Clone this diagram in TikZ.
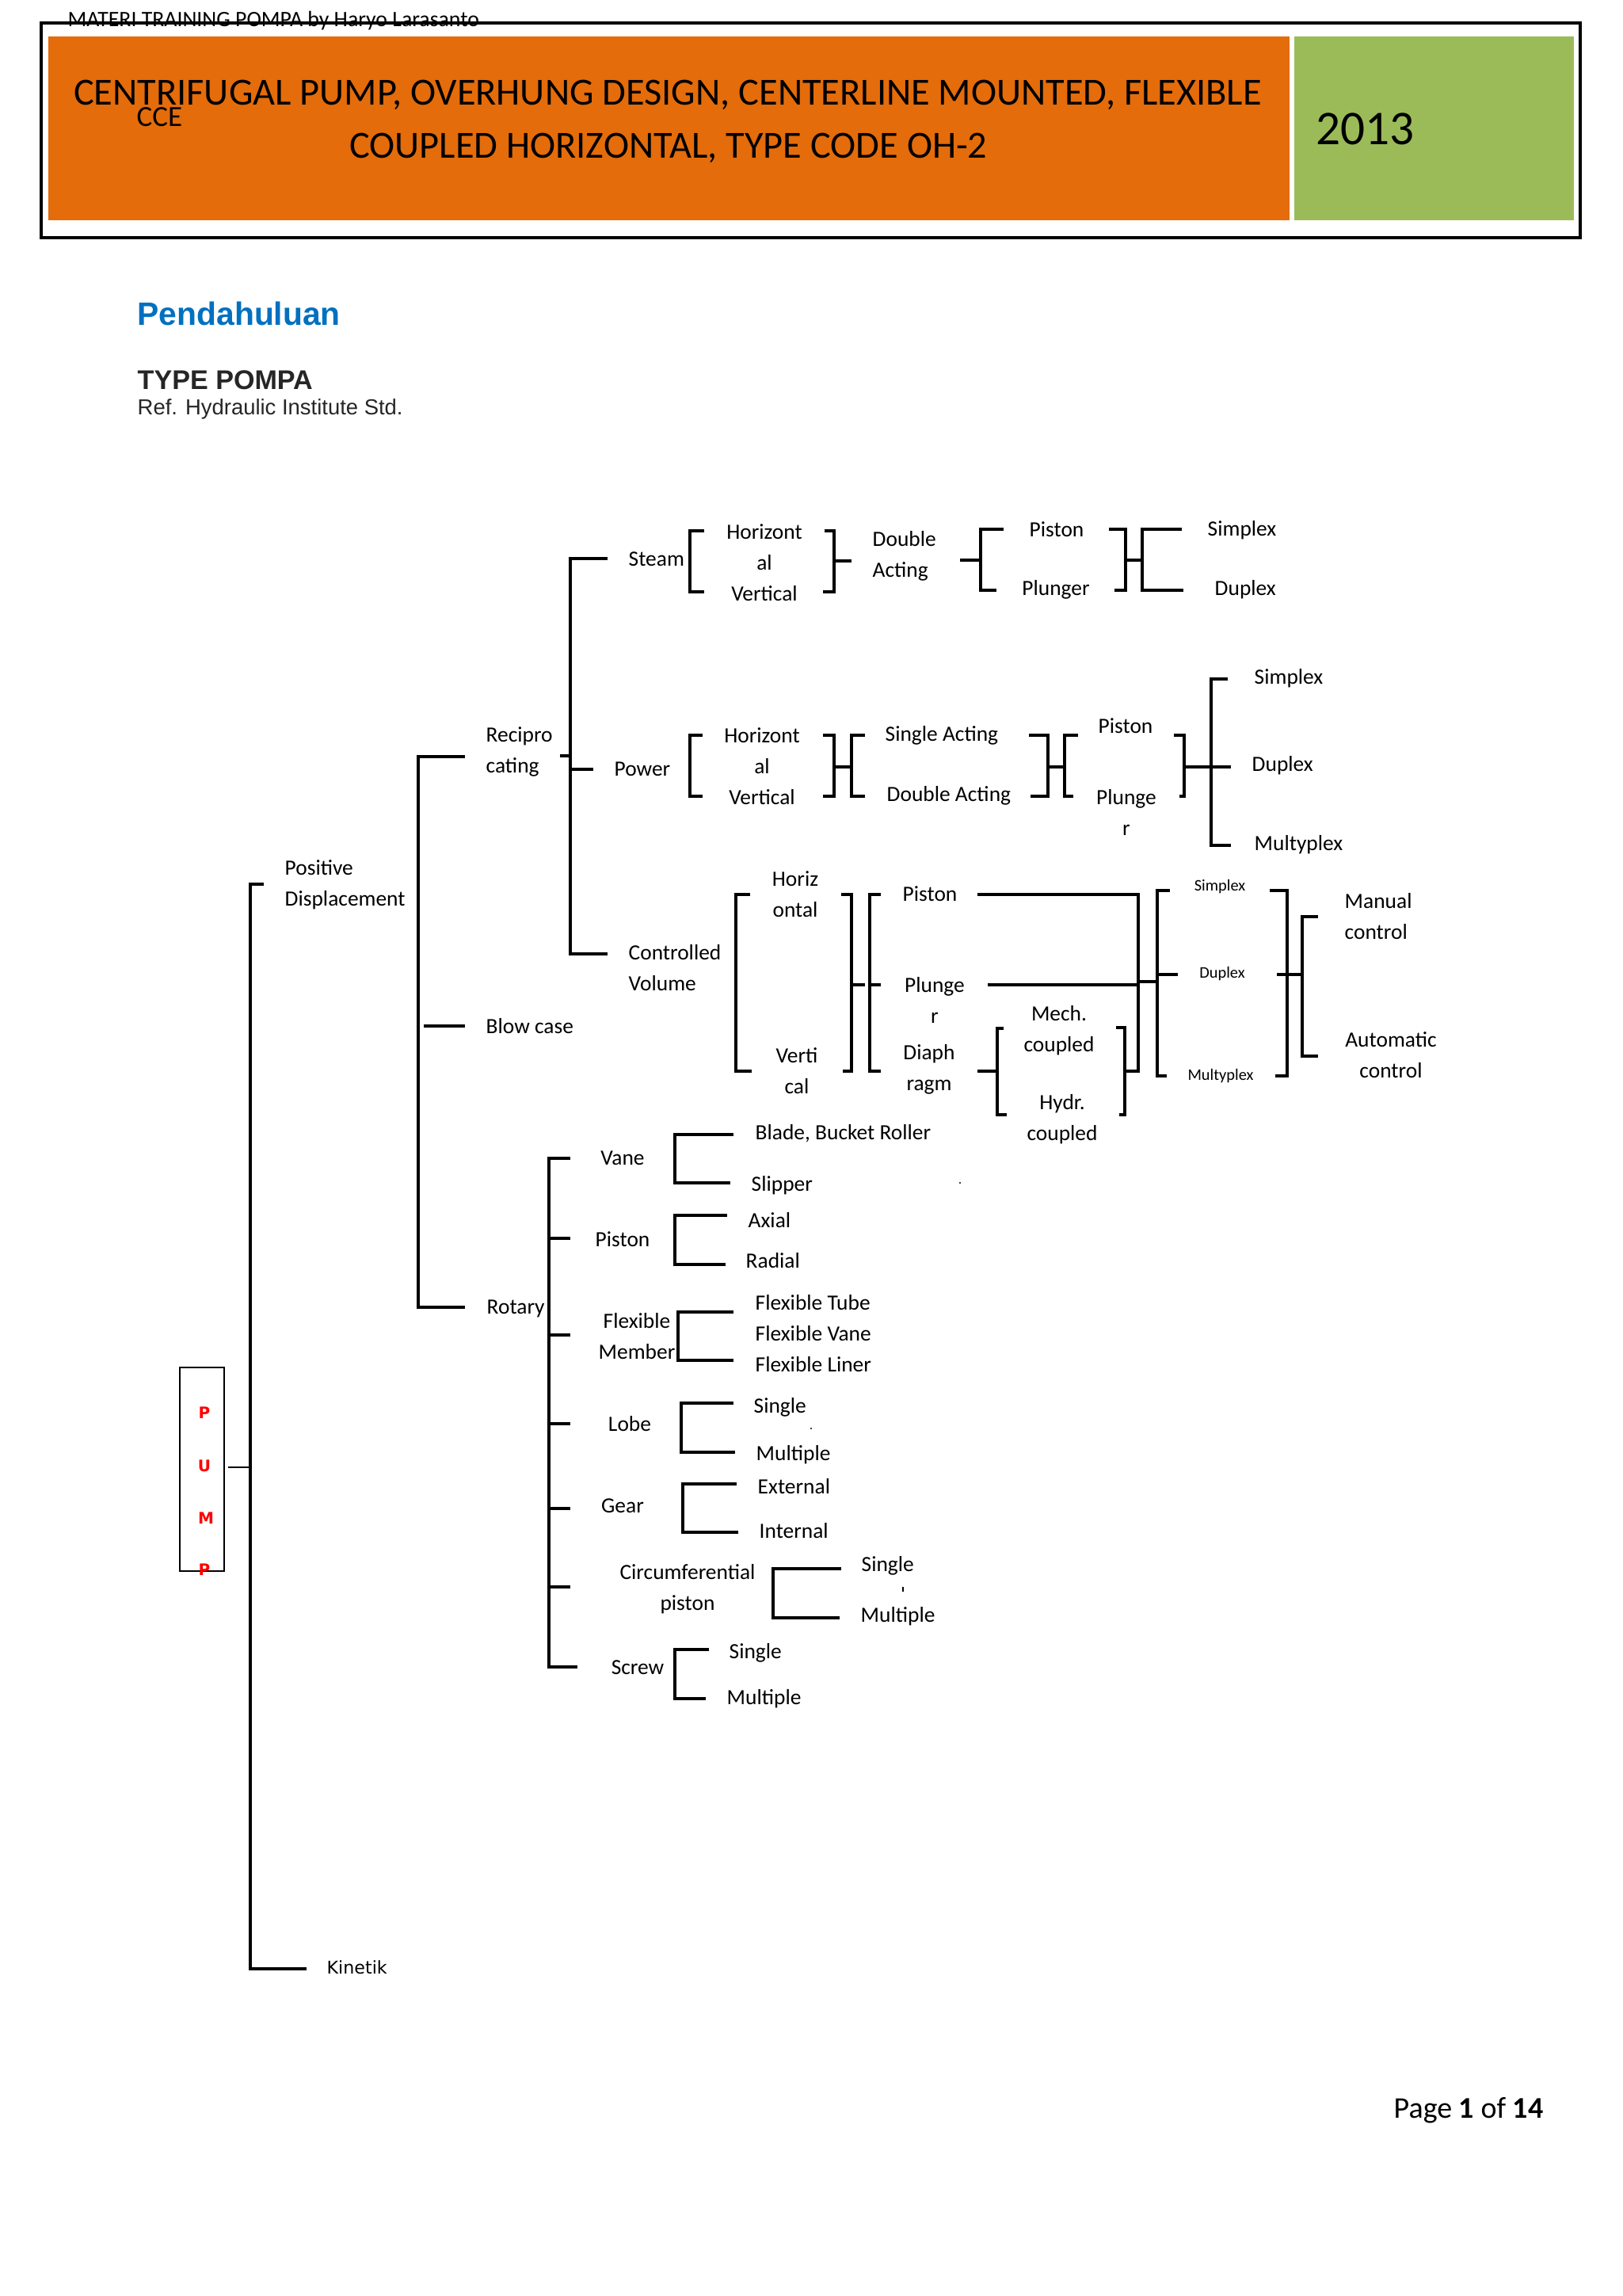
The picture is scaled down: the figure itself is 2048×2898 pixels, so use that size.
\documentclass[tikz,border=0pt]{standalone}
\usepackage{fontspec}
\setmainfont{Carlito}
\newfontfamily\arialf{Liberation Sans}
\newfontfamily\dejaf{DejaVu Sans}
\definecolor{orH}{HTML}{E46C0A}
\definecolor{grH}{HTML}{9BBB59}
\definecolor{blH}{HTML}{0070C0}
\definecolor{dkH}{HTML}{262626}
\begin{document}
\begin{tikzpicture}[x=0.01cm,y=-0.01cm,
  lbl/.style={inner sep=0pt, align=center, font=\fontsize{7.8pt}{11.1pt}\selectfont},
  lbw/.style={lbl, align=left, anchor=west},
  sml/.style={inner sep=0pt, font=\fontsize{5.8pt}{7pt}\selectfont},
  ln/.style={line width=0.9pt},
  thinln/.style={line width=0.5pt},
  pl/.style={inner sep=0pt, text=red, font=\dejaf\bfseries\fontsize{5.7pt}{6pt}\selectfont}]
\useasboundingbox[fill=white] (0,0) rectangle (2048,2898);

% ---------- header ----------
\draw[line width=1.2pt] (52,29) rectangle (1995,300);
\fill[orH] (61,46) rectangle (1628,278);
\fill[grH] (1634,46) rectangle (1987,278);
\node[anchor=base west, inner sep=0pt, font=\fontsize{7.9pt}{9pt}\selectfont] (hdr) at (85,34) {MATERI TRAINING POMPA by Haryo Larasanto};
\node[anchor=base, inner sep=0pt, font=\fontsize{13.75pt}{16pt}\selectfont] (t1) at (843,133) {CENTRIFUGAL PUMP, OVERHUNG DESIGN, CENTERLINE MOUNTED, FLEXIBLE};
\node[anchor=base, inner sep=0pt, font=\fontsize{13.75pt}{16pt}\selectfont] (t2) at (844,200) {COUPLED HORIZONTAL, TYPE CODE OH-2};
\node[anchor=base west, inner sep=0pt, font=\fontsize{10.5pt}{12pt}\selectfont] (cce) at (172,160) {CCE};
\node[anchor=base west, inner sep=0pt, font=\fontsize{17.4pt}{20pt}\selectfont] (yr) at (1661,183) {2013};

\node[anchor=base west, inner sep=0pt, text=blH, font=\arialf\bfseries\fontsize{11.6pt}{14pt}\selectfont] (pend) at (173,411) {Pendahuluan};
\node[anchor=base west, inner sep=0pt, text=dkH, font=\arialf\bfseries\fontsize{9.7pt}{11pt}\selectfont] (tp) at (173,492) {TYPE POMPA};
\node[anchor=base west, inner sep=0pt, text=dkH, font=\arialf\fontsize{7.8pt}{9pt}\selectfont] (ref) at (173,524) {Ref. Hydraulic Institute Std.};

\node[anchor=base west, inner sep=0pt, font=\fontsize{10.8pt}{12pt}\selectfont] (pg) at (1759,2673) {Page \textbf{1} of \textbf{14}};

% ---------- PUMP ----------
\node[draw, line width=0.5pt, minimum width=0.56cm, minimum height=2.57cm, inner sep=0pt] (pump) at (255,1854.5) {};
\node[pl] (p1) at (258,1783) {P};
\node[pl] (p2) at (258,1850) {U};
\node[pl] (p3) at (260,1916) {M};
\node[pl] (p4) at (258,1981) {P};
\draw[thinln] (288,1852) -- (316,1852);

% level 1
\draw[ln] (333,1116) -- (316,1116) -- (316,2485) -- (387,2485);
\node[lbw] (pd) at (359,1116.5) {Positive\\Displacement};
\node[anchor=west, inner sep=0pt, font=\dejaf\fontsize{6.3pt}{7pt}\selectfont] (kin) at (412,2483) {Kinetik};

% level 2
\draw[ln] (587,955) -- (528,955) -- (528,1650) -- (587,1650);
\draw[ln] (535,1295) -- (587,1295);
\node[lbw] (rec) at (613,948.5) {Recipro\\cating};
\node[lbw] (blow) at (613,1295) {Blow case};
\node[lbw] (rot) at (614,1652) {Rotary};

% reciprocating
\draw[ln] (707,954) -- (720,954);
\draw[ln] (767,705) -- (720,705) -- (720,1204) -- (767,1204);
\draw[ln] (720,971) -- (749,971);
\node[lbw] (steam) at (793,706) {Steam};
\node[lbw] (power) at (775,971) {Power};
\node[lbw] (cv) at (793,1221.5) {Controlled\\Volume};

% steam row
\draw[ln] (889,670) -- (871,670) -- (871,747) -- (889,747);
\node[lbl] (shv) at (965,710) {Horizont\\al\\Vertical};
\draw[ln] (1041,670) -- (1053,670) -- (1053,747) -- (1039,747);
\draw[ln] (1053,708) -- (1075,708);
\node[lbw] (sda) at (1101,701.5) {Double\\Acting};
\draw[ln] (1212,707) -- (1238,707);
\draw[ln] (1267,668) -- (1238,668) -- (1238,745) -- (1258,745);
\node[lbl] (spis) at (1334,668) {Piston};
\node[lbl] (splu) at (1333,744) {Plunger};
\draw[ln] (1400,668) -- (1421,668) -- (1421,745) -- (1407,745);
\draw[ln] (1421,707) -- (1442,707);
\draw[ln] (1492,668) -- (1442,668) -- (1442,745) -- (1494,745);
\node[lbw] (ssim) at (1524,669) {Simplex};
\node[lbw] (sdup) at (1533,744) {Duplex};

% power row
\draw[ln] (887,928) -- (871,928) -- (871,1005) -- (887,1005);
\node[lbl] (phv) at (962,967) {Horizont\\al\\Vertical};
\draw[ln] (1039,928) -- (1053,928) -- (1053,1005) -- (1039,1005);
\draw[ln] (1053,968) -- (1075,968);
\draw[ln] (1092,928) -- (1075,928) -- (1075,1005) -- (1092,1005);
\node[lbw] (psa) at (1117,928) {Single Acting};
\node[lbw] (pda) at (1119,1004) {Double Acting};
\draw[ln] (1299,928) -- (1323,928) -- (1323,1005) -- (1301,1005);
\draw[ln] (1323,968) -- (1344,968);
\draw[ln] (1361,928) -- (1344,928) -- (1344,1005) -- (1355,1005);
\node[lbl] (ppis) at (1421,916) {Piston};
\node[lbl] (pplu) at (1422,1025) {Plunge\\r};
\draw[ln] (1482,928) -- (1495,928) -- (1495,1005) -- (1489,1005);
\draw[ln] (1495,968) -- (1554,968);
\draw[ln] (1550,857) -- (1529,857) -- (1529,1067) -- (1554,1067);
\node[lbw] (psim) at (1583,856) {Simplex};
\node[lbw] (pdup) at (1580,966) {Duplex};
\node[lbw] (pmul) at (1583,1066) {Multyplex};

% controlled volume
\draw[ln] (947,1129) -- (929,1129) -- (929,1352) -- (949,1352);
\node[lbl] (chz) at (1004,1129) {Horiz\\ontal};
\node[lbl] (cvt) at (1006,1352) {Verti\\cal};
\draw[ln] (1062,1129) -- (1075,1129) -- (1075,1352) -- (1064,1352);
\draw[ln] (1075,1243) -- (1092,1243);
\draw[ln] (1112,1129) -- (1098,1129) -- (1098,1352) -- (1112,1352);
\draw[ln] (1098,1243) -- (1112,1243);
\node[lbl] (cpis) at (1174,1128) {Piston};
\node[lbl] (cplu) at (1180,1262) {Plunge\\r};
\node[lbl] (cdia) at (1173,1350) {Diaph\\ragm};
\draw[ln] (1234,1129) -- (1437,1129) -- (1437,1352) -- (1420,1352);
\draw[ln] (1247,1243) -- (1437,1243);
\draw[ln] (1234,1352) -- (1259,1352);
\draw[ln] (1267,1298) -- (1259,1298) -- (1259,1407) -- (1271,1407);
\node[lbl] (mech) at (1337,1301) {Mech.\\coupled};
\node[lbl] (hydr) at (1341,1413) {Hydr.\\coupled};
\draw[ln] (1409,1297) -- (1420,1297) -- (1420,1407) -- (1413,1407);
\draw[ln] (1437,1239) -- (1461,1239);
\draw[ln] (1477,1124) -- (1461,1124) -- (1461,1358) -- (1473,1358);
\draw[ln] (1461,1230) -- (1487,1230);
\node[sml] (csim) at (1540,1119) {Simplex};
\node[sml] (cdup) at (1543,1229) {Duplex};
\node[sml] (cmul) at (1541,1358) {Multyplex};
\draw[ln] (1603,1124) -- (1625,1124) -- (1625,1358) -- (1610,1358);
\draw[ln] (1612,1230) -- (1644,1230);
\draw[ln] (1664,1157) -- (1644,1157) -- (1644,1333) -- (1664,1333);
\node[lbw] (man) at (1697,1157) {Manual\\control};
\node[lbl] (aut) at (1756,1332) {Automatic\\control};

% rotary
\draw[ln] (720,1462) -- (693,1462) -- (693,2104) -- (729,2104);
\foreach \yy in {1563,1685,1797,1904,2003} \draw[ln] (693,\yy) -- (720,\yy);
\node[lbl] (vane) at (786,1462) {Vane};
\node[lbl] (rpis) at (786,1564) {Piston};
\node[lbl] (flex) at (804,1687) {Flexible\\Member};
\node[lbl] (lobe) at (795,1797) {Lobe};
\node[lbl] (gear) at (786,1901) {Gear};
\node[lbl] (circ) at (868,2006) {Circumferential\\piston};
\node[lbl] (scr) at (805,2105) {Screw};

\draw[ln] (926,1432) -- (852,1432) -- (852,1493) -- (922,1493);
\node[lbw] (blade) at (953,1431) {Blade, Bucket Roller};
\node[lbw] (slip) at (948,1496) {Slipper};
\draw[ln] (918,1534) -- (852,1534) -- (852,1596) -- (916,1596);
\node[lbw] (axi) at (944,1540) {Axial};
\node[lbw] (rad) at (941,1591) {Radial};
\draw[ln] (926,1656) -- (856,1656) -- (856,1717) -- (926,1717);
\node[lbw] (fl) at (953,1683) {Flexible Tube\\Flexible Vane\\Flexible Liner};
\draw[ln] (926,1771) -- (860,1771) -- (860,1833) -- (928,1833);
\node[lbw] (lsin) at (951,1776) {Single};
\node[lbw] (lmul) at (954,1836) {Multiple};
\draw[ln] (930,1873) -- (862,1873) -- (862,1934) -- (932,1934);
\node[lbw] (gext) at (956,1876) {External};
\node[lbw] (gint) at (958,1932) {Internal};
\draw[ln] (1062,1980) -- (976,1980) -- (976,2042) -- (1060,2042);
\node[lbw] (csin) at (1087,1976) {Single};
\node[lbw] (cmlt) at (1086,2040) {Multiple};
\draw[line width=0.6pt] (1140,2003) -- (1140,2009);
\draw[ln] (895,2082) -- (852,2082) -- (852,2144) -- (891,2144);
\node[lbw] (ssin) at (920,2086) {Single};
\node[lbw] (smul) at (917,2144) {Multiple};
\fill (1212,1493) circle (1.2);
\fill (1024,1803) circle (1.2);
\end{tikzpicture}
\end{document}
